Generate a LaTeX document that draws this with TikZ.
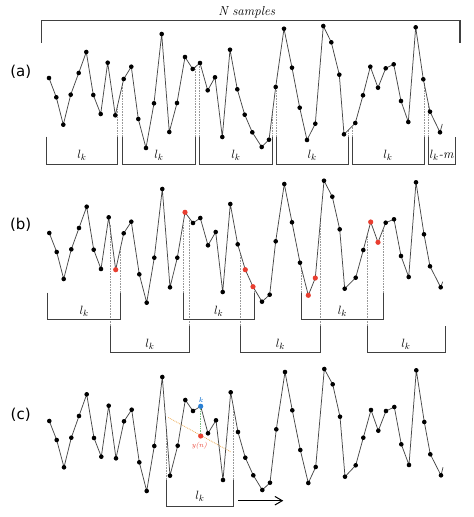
\documentclass[tikz,border=0pt]{standalone}
\usepackage{fontspec}
\newfontfamily\panelfont{DejaVu Sans}
\usetikzlibrary{arrows.meta}
\definecolor{ptred}{RGB}{232,62,48}
\definecolor{ptblue}{RGB}{42,128,212}
\definecolor{ptorange}{RGB}{236,170,80}
\definecolor{ptgreen}{RGB}{120,190,130}
\definecolor{sigline}{RGB}{72,72,72}
\tikzset{
    sig/.style      = {draw=sigline, line width=0.75pt, line join=round},
    sdot/.style     = {circle, fill=black, inner sep=0pt, minimum size=4.6pt},
    rdot/.style     = {sdot, fill=ptred, minimum size=5.2pt},
    bdot/.style     = {sdot, fill=ptblue, minimum size=5.2pt},
    winbox/.style   = {draw=black!75, line width=1pt},
    guide/.style    = {draw=black!40, densely dotted, line width=0.6pt},
    winlabel/.style = {font=\fontsize{13}{13}\selectfont, inner sep=0pt},
    panel/.style    = {font=\panelfont\fontsize{15}{15}\selectfont, inner sep=0pt},
    slide/.style    = {-{Straight Barb[length=2.6mm, width=3mm]}, line width=1pt}
}

\begin{document}
\begin{tikzpicture}[x=1pt, y=-1pt]
    \useasboundingbox (0,0) rectangle (474,517);

    % N samples
    \draw[winbox, line width=1.1pt] (41.7,42.7) |- (460,20.7) -- (460,42.7);
    \node[font=\itshape\fontsize{13}{13}\selectfont, inner sep=0pt] (nsamp) at (246.7,12.7) {N samples};

    %% (a)
    \node[panel] (pa) at (20.7,71.7) {(a)};
    \foreach \x/\y [count=\i] in {49/78, 56.3/97.3, 63.3/124.7, 70.7/94.7, 78.7/73, 86.3/52, 93.3/95,
        100.7/114, 107.7/62.7, 115.3/115.3, 123.7/79, 131.3/66.7, 138.3/119, 146/148, 154/103.3,
        161.7/34, 169.3/132, 177/103, 185/57, 192.7/69, 200/63, 207.7/90.3, 215/77.3, 222.3/137,
        230/49.7, 237.3/89.3, 244.7/114.7, 252.3/132.3, 261.7/147, 269/139.7, 275.7/87, 284/28.7,
        292/67.7, 299.7/107.7, 307/140, 315.3/123.7, 323.3/26, 331.3/42.3, 339.3/74.7, 344/134.3,
        355.3/123, 363/95.3, 370.3/66.7, 378/87.7, 385.7/68.3, 393.7/64.3, 401/101, 408.3/122,
        415.7/27.3, 423.3/79.3, 430/111.7, 440/132.3}
        \coordinate (a\i) at (\x,\y);
    \coordinate (aend) at (442.3,124);
    \foreach \x/\y in {117.3/106.7, 122.7/83.3, 195/67.1, 199/63.8, 272.7/110.6, 276/84.9,
        348.3/130, 352/126.3, 424/82.7, 428/102}
        \draw[guide] (\x,136.7) -- (\x,\y);
    \draw[sig] (a1) \foreach \i in {2,...,52} {-- (a\i)} -- (aend);
    \foreach \i in {1,...,52}
        \node[sdot] (da\i) at (a\i) {};
    \foreach \l/\r [count=\i] in {46.7/117.3, 122.7/195, 199/272.7, 276/348.3, 352/424}{
        \draw[winbox] (\l,136.7) |- (\r,164.3) -- (\r,136.7);
        \node[winlabel] (wa\i) at ({(\l+\r)/2},155) {$l_k$};
    }
    \draw[winbox] (428,136.7) |- (455.3,164.3) -- (455.3,136.7);
    \node[winlabel] (wa6) at (441.7,155) {$l_k$\textit{-m}};

    %% (b)
    \node[panel] (pb) at (20.7,225) {(b)};
    \foreach \x/\y [count=\i] in {49.3/233, 56.7/252, 63.7/279, 71.3/249.3, 79/228, 86.7/206.7,
        93.7/249.7, 101/269, 108.7/217.3, 115.7/269.7, 123.7/233.3, 131.3/221.7, 139.3/274.3,
        146.7/302.7, 154.3/257.7, 162.3/189, 170/287.3, 177.3/257.7, 185/212.3, 193/223,
        200.3/218, 208/245.3, 215.7/232, 222.7/292, 230.3/204, 237.7/244.3, 245.3/269.7,
        253/286.7, 262/301.7, 269.7/294.7, 275.7/241.3, 284.3/184, 292/222.3, 300/262.7,
        308.3/295.3, 315.3/278, 324/180.7, 332.3/196.7, 339.7/229.3, 344.7/288.7, 355.7/277.7,
        363.3/250, 370.7/222, 378/242.3, 385.7/222.7, 394/219.3, 401/256, 408.7/277, 416/182.3,
        424/234.3, 430/266.3, 440.7/287.3}
        \coordinate (b\i) at (\x,\y);
    \coordinate (bend) at (442.7,281.7);
    \foreach \x/\y/\t in {110.3/224/326, 120.7/247/292.7, 183/224/292.7, 189.3/218/326,
        240.3/253/326, 254.3/289/292.7, 301.7/269.4/292.7, 320.7/217.6/326,
        367/236/326, 383.3/228.8/292.7}
        \draw[guide] (\x,\t) -- (\x,\y);
    \draw[sig] (b1) \foreach \i in {2,...,52} {-- (b\i)} -- (bend);
    \foreach \i in {1,2,3,4,5,6,7,8,9,11,12,13,14,15,16,17,18,20,21,22,23,24,25,26,
        29,30,31,32,33,34,37,38,39,40,41,42,45,46,47,48,49,50,51,52}
        \node[sdot] (db\i) at (b\i) {};
    \foreach \i in {10,19,27,28,35,36,43,44}
        \node[rdot] (db\i) at (b\i) {};
    \foreach \l/\r [count=\i] in {47.7/120.7, 183/254.3, 301.7/383.3}{
        \draw[winbox] (\l,292.7) |- (\r,319.7) -- (\r,292.7);
        \node[winlabel] (wbu\i) at ({(\l+\r)/2},311.3) {$l_k$};
    }
    \foreach \l/\r [count=\i] in {110.3/189.3, 240.3/320.7, 367/445}{
        \draw[winbox] (\l,326) |- (\r,352.7) -- (\r,326);
        \node[winlabel] (wbl\i) at ({(\l+\r)/2},344) {$l_k$};
    }

    %% (c)
    \node[panel] (pc) at (20.7,414.3) {(c)};
    \foreach \x/\y [count=\i] in {49.3/421, 56.7/440, 64/467.3, 71.3/437.7, 79/416, 86.7/394.3,
        94/438, 101.3/456.7, 108.7/405.7, 116/458.3, 124/421.3, 131.7/409.7, 139.3/462.3,
        146.7/491, 154.3/446, 162.3/377, 170/475.7, 177.7/445.7, 185.3/400, 193/411,
        200.7/406.3, 208/433.3, 216/420.3, 223/480, 230.7/392.3, 238/432, 245.3/457.7,
        253.3/475.3, 262.3/490, 270/482.7, 276.3/429.3, 285/372, 292.3/410.3, 300.3/450,
        308.3/483, 315.7/467, 324.3/369, 332.7/384.3, 340/416.7, 345/476.7, 355.7/465.3,
        363.3/437.7, 371/410, 378.3/430.7, 386/411, 394.3/407, 401.3/444.3, 409/465,
        416.3/370.3, 424.3/422, 430.3/454.3, 441/475.3}
        \coordinate (c\i) at (\x,\y);
    \coordinate (cend) at (443,467.3);
    \draw[guide] (166.7,480) -- (166.7,430);
    \draw[guide] (233.3,480) -- (233.3,406.4);
    \coordinate (fit0) at (168.3,417.5);
    \coordinate (fit1) at (231,452);
    \draw[draw=ptorange, densely dotted, line width=0.8pt] (fit0) -- (fit1);
    \draw[sig] (c1) \foreach \i in {2,...,52} {-- (c\i)} -- (cend);
    \foreach \i in {1,2,3,4,5,6,7,8,9,10,11,12,13,14,15,16,17,18,19,20,22,23,24,25,26,27,
        28,29,30,31,32,33,34,35,36,37,38,39,40,41,42,43,44,45,46,47,48,49,50,51,52}
        \node[sdot] (dc\i) at (c\i) {};
    \node[bdot] (dk) at (c21) {};
    \node[rdot] (yn) at (200.7,436) {};
    \draw[draw=ptgreen, densely dotted, line width=0.7pt] (dk) -- (yn);
    \node[text=ptblue, font=\bfseries\itshape\fontsize{7}{7}\selectfont, inner sep=0pt, anchor=south, yshift=1.2pt] (klab) at (dk.north) {k};
    \node[text=ptred, font=\itshape\fontsize{7}{7}\selectfont, inner sep=0pt, anchor=north] (ynlab) at (199.3,442.5) {y(n)};
    \draw[winbox] (166.7,480) |- (233.3,506.7) -- (233.3,480);
    \node[winlabel] (wc) at (200,496.7) {$l_k$};
    \coordinate (slide0) at (238.3,500.7);
    \coordinate (slide1) at (283.3,500.7);
    \draw[slide] (slide0) -- (slide1);
\end{tikzpicture}
\end{document}
